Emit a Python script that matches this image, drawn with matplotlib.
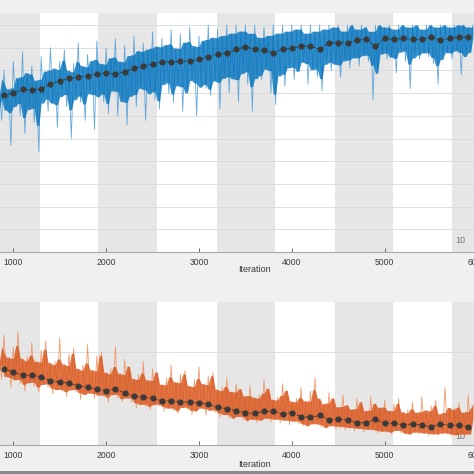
import numpy as np
import pandas as pd
import matplotlib
matplotlib.use("Agg")
import matplotlib.pyplot as plt
from matplotlib.patches import Rectangle

plt.rcParams['font.family'] = ['Liberation Sans', 'DejaVu Sans']

# ---------------- data ----------------
epoch_edges = [20, 654, 1288, 1912, 2546, 3192, 3815, 4461, 5089, 5724, 6358]
x_ticks = [1000, 2000, 3000, 4000, 5000, 6000]
epoch_label = "10"

# smoothed / validation points (every 100 iterations, 900..5900)
dot_iter = list(range(900, 6000, 100))
acc_dots = [69.2, 69.9, 71.7, 71.4, 71.7, 74.0, 75.3, 76.5, 77.2, 77.5, 78.4, 79.0, 78.4,
            79.4, 80.9, 81.9, 82.8, 83.8, 83.8, 84.1, 84.1, 84.9, 85.8, 87.2, 87.5, 89.3,
            90.4, 89.3, 89.0, 87.8, 89.3, 89.7, 90.7, 90.7, 89.3, 92.2, 92.2, 92.2, 93.4,
            93.7, 90.7, 94.1, 93.7, 94.1, 93.7, 93.7, 94.6, 93.4, 94.1, 94.6, 94.6]
loss_dots = [0.820, 0.785, 0.749, 0.749, 0.734, 0.691, 0.677, 0.663, 0.634, 0.620, 0.599,
             0.584, 0.606, 0.556, 0.527, 0.513, 0.502, 0.476, 0.473, 0.462, 0.462, 0.448,
             0.441, 0.405, 0.390, 0.369, 0.347, 0.341, 0.362, 0.362, 0.333, 0.347, 0.304,
             0.298, 0.319, 0.269, 0.276, 0.269, 0.240, 0.240, 0.276, 0.233, 0.233, 0.218,
             0.226, 0.212, 0.197, 0.226, 0.212, 0.212, 0.197]

# raw mini-batch values (every 25 iterations, 850..5950)
raw_iter = list(range(850, 5951, 25))
acc_raw = [
    74, 58, 80, 63, 71, 47, 84, 66, 76, 60, 88, 52, 78, 64, 82, 57,
    75, 44, 86, 68, 79, 62, 90, 66, 80, 55, 84, 70, 89, 64, 79, 50,
    83, 69, 92, 66, 81, 58, 87, 71, 84, 54, 93, 70, 82, 66, 90, 61,
    85, 72, 94, 60, 83, 67, 91, 56, 86, 70, 95, 64, 88, 73, 92, 58,
    89, 71, 97, 67, 90, 63, 94, 75, 91, 70, 98, 66, 89, 74, 96, 62,
    92, 71, 99, 76, 90, 60, 95, 74, 93, 72, 100, 69, 94, 76, 98, 63,
    95, 78, 100, 70, 96, 77, 100, 66, 97, 80, 100, 74, 96, 62, 100, 78,
    94, 76, 99, 81, 95, 70, 100, 65, 96, 79, 100, 73, 97, 82, 100, 76,
    98, 80, 100, 84, 96, 74, 100, 81, 97, 77, 100, 71, 98, 84, 100, 80,
    99, 83, 100, 77, 97, 85, 100, 81, 100, 86, 98, 82, 100, 87, 99, 84,
    97, 67, 100, 80, 100, 88, 99, 85, 100, 86, 98, 79, 100, 89, 100, 84,
    99, 72, 100, 87, 100, 85, 98, 88, 100, 86, 100, 83, 99, 74, 100, 86,
    100, 88, 99, 85, 100, 89, 100, 78, 100, 87, 99, 88, 100]
loss_raw = [
    0.98, 0.70, 1.18, 0.74, 0.92, 0.62, 1.05, 0.71, 1.22, 0.66, 0.90, 0.58,
    0.95, 0.68, 1.10, 0.63, 0.88, 0.57, 1.02, 0.66, 1.12, 0.62, 0.86, 0.55,
    0.90, 0.60, 1.15, 0.58, 0.84, 0.52, 0.98, 0.60, 1.04, 0.57, 0.80, 0.49,
    0.86, 0.55, 1.08, 0.56, 0.78, 0.50, 0.96, 0.54, 1.00, 0.52, 0.76, 0.46,
    0.82, 0.55, 1.06, 0.50, 0.74, 0.47, 0.92, 0.51, 0.84, 0.46, 0.70, 0.40,
    0.76, 0.44, 0.90, 0.42, 0.68, 0.38, 0.82, 0.44, 0.78, 0.42, 0.64, 0.36,
    0.72, 0.40, 0.86, 0.37, 0.66, 0.34, 0.76, 0.41, 0.80, 0.38, 0.62, 0.33,
    0.70, 0.37, 0.84, 0.40, 0.64, 0.32, 0.74, 0.38, 0.78, 0.35, 0.58, 0.30,
    0.62, 0.33, 0.72, 0.29, 0.56, 0.28, 0.66, 0.31, 0.60, 0.27, 0.52, 0.25,
    0.64, 0.28, 0.50, 0.24, 0.54, 0.27, 0.70, 0.29, 0.60, 0.25, 0.48, 0.28,
    0.52, 0.24, 0.66, 0.27, 0.58, 0.22, 0.46, 0.26, 0.50, 0.23, 0.62, 0.21,
    0.46, 0.20, 0.58, 0.23, 0.72, 0.22, 0.48, 0.19, 0.44, 0.18, 0.56, 0.21,
    0.50, 0.17, 0.40, 0.20, 0.54, 0.16, 0.42, 0.19, 0.38, 0.15, 0.50, 0.18,
    0.46, 0.14, 0.36, 0.17, 0.52, 0.16, 0.44, 0.13, 0.40, 0.15, 0.48, 0.14,
    0.36, 0.12, 0.44, 0.16, 0.50, 0.13, 0.34, 0.12, 0.38, 0.11, 0.46, 0.14,
    0.34, 0.12, 0.52, 0.13, 0.36, 0.10, 0.42, 0.12, 0.48, 0.11, 0.32, 0.13,
    0.62, 0.12, 0.38, 0.10, 0.40, 0.11, 0.46, 0.12, 0.34, 0.10, 0.54, 0.12, 0.38]

# ---------------- figure ----------------
W = 474
fig = plt.figure(figsize=(4.74, 4.74), dpi=100, facecolor='#f0f0f0')

px_per_it = 0.09285
xlo, xhi = 857, 6500
ax_w = (xhi - xlo) * px_per_it / W


def style_axes(ax, ylim, gridvals, label_y):
    ax.set_xlim(xlo, xhi)
    ax.set_ylim(*ylim)
    ax.set_facecolor('white')
    for i in range(len(epoch_edges) - 1):
        col = '#e6e6e6' if (i + 1) % 2 == 0 else '#ffffff'
        ax.axvspan(epoch_edges[i], epoch_edges[i + 1], color=col, lw=0, zorder=0)
    for g in gridvals:
        ax.axhline(g, color='#d9d9d9', lw=0.6, zorder=1)
    for s in ['top', 'left', 'right']:
        ax.spines[s].set_visible(False)
    ax.spines['bottom'].set_color('#a8a8a8')
    ax.spines['bottom'].set_linewidth(0.8)
    ax.set_yticks([])
    ax.set_xticks(x_ticks)
    ax.set_xticklabels([str(t) for t in x_ticks])
    ax.tick_params(axis='x', direction='in', length=3, width=0.6, color='#555555',
                   labelsize=6.2, labelcolor='#3a3a3a', pad=4)
    ax.set_xlabel('Iteration', fontsize=6.5, color='#3a3a3a')
    ax.xaxis.set_label_coords(254 / (ax_w * W), label_y)
    ax.text(epoch_edges[9] + 35, ylim[1] * 0.03, epoch_label, fontsize=6.5,
            color='#777777', ha='left', va='bottom', zorder=2)


def draw_series(ax, raw, dots, core_col, spike_col):
    s = pd.Series(raw, index=raw_iter)
    lo = s.rolling(4, center=True, min_periods=1).quantile(0.3)
    hi = s.rolling(4, center=True, min_periods=1).quantile(0.7)
    ax.plot(raw_iter, raw, color=spike_col, lw=0.6, alpha=0.85, zorder=3)
    ax.fill_between(raw_iter, lo.values, hi.values, color=core_col, alpha=0.8,
                    lw=0, zorder=4)
    ax.plot(dot_iter, dots, ls='--', lw=0.6, color='#333333', marker='o',
            markersize=3.4, markerfacecolor='#3a3a3a', markeredgecolor='#3a3a3a',
            zorder=6)


# top panel: accuracy
ax1 = fig.add_axes([0.0, (W - 252) / W, ax_w, 239 / W])
style_axes(ax1, (0, 105.3), list(range(10, 101, 10)), -0.055)
draw_series(ax1, acc_raw, acc_dots, '#0072BD', '#4a9ad8')

# bottom panel: loss
ax2 = fig.add_axes([0.0, (W - 445) / W, ax_w, 143 / W])
style_axes(ax2, (0, 1.538), [1.0], -0.105)
draw_series(ax2, loss_raw, loss_dots, '#D95319', '#f08a55')

# dark strip at the very bottom of the picture
fig.patches.append(Rectangle((0, 0), 1, 3 / W, transform=fig.transFigure,
                             color='#8a8a8a', lw=0, zorder=10))

fig.savefig('out.png', dpi=100, facecolor=fig.get_facecolor())
